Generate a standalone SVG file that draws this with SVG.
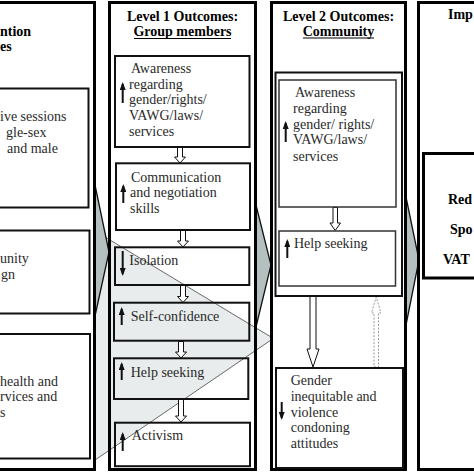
<svg xmlns="http://www.w3.org/2000/svg" width="474" height="474" viewBox="0 0 474 474">
<style>
.col{fill:none;stroke:#000;stroke-width:3}
.box{fill:none;stroke:#111;stroke-width:2}
.box3{fill:none;stroke:#333;stroke-width:1.5}
.t{font-family:"Liberation Serif","Times New Roman",serif;font-size:14px;fill:#2a2a2a}
.h{font-family:"Liberation Serif","Times New Roman",serif;font-size:14px;font-weight:bold;fill:#000}
.ul{stroke:#000;stroke-width:1.2}
.ind{stroke:#111;stroke-width:2;fill:none;marker-end:url(#ah)}
.hol{fill:#fff;stroke:#111;stroke-width:1}
.chev{fill:#b4c0c0;stroke:#111;stroke-width:1.3}
</style>
<defs>
<marker id="ah" markerUnits="userSpaceOnUse" markerWidth="8" markerHeight="6" refX="6" refY="3" orient="auto">
<path d="M0,0 L8,3 L0,6 z" fill="#111"/>
</marker>
</defs>
<rect x="0" y="0" width="474" height="474" fill="#fff"/>
<g id="connectors">
<polygon points="95,231 271,337 271,340 95,460" fill="#e8ecec"/>
<line x1="95" y1="231" x2="271" y2="337" stroke="#444" stroke-width="0.8"/>
<line x1="95" y1="460" x2="271" y2="340" stroke="#444" stroke-width="0.8"/>
<polygon class="chev" points="95,185 109,252 95,316"/>
<polygon class="chev" points="256,205 271,265 256,327"/>
<polygon class="chev" points="406,197 419,260 406,325"/>
<polygon class="hol" points="177.5,147.5 182.5,147.5 182.5,157 185.5,157 180,163 174.5,157 177.5,157"/>
<polygon class="hol" points="180.5,230.5 185.5,230.5 185.5,241 188.5,241 183,247 177.5,241 180.5,241"/>
<polygon class="hol" points="180.5,285.5 185.5,285.5 185.5,296.5 188.5,296.5 183,302.5 177.5,296.5 180.5,296.5"/>
<polygon class="hol" points="178.5,341.5 183.5,341.5 183.5,352 186.5,352 181,358 175.5,352 178.5,352"/>
<polygon class="hol" points="178.5,399.5 183.5,399.5 183.5,416 186.5,416 181,422 175.5,416 178.5,416"/>
<polygon class="hol" points="333,207.5 337.5,207.5 337.5,223 340.5,223 335.2,230.5 330,223 333,223"/>
<polygon class="hol" points="310,296.5 316,296.5 316,349 319,349 313,367 307,349 310,349"/>
<polygon points="374,367 378.5,367 378.5,313 381,313 376.2,297 371.5,313 374,313" fill="none" stroke="#9a9a9a" stroke-width="1" stroke-dasharray="2 1.5"/>
</g>
<g id="col1">
<rect class="col" x="-10" y="2.5" width="104.5" height="467"/>
<text class="h" x="0" y="36">ntion</text>
<text class="h" x="0" y="51">es</text>
</g>
<g id="c1-sessions">
<rect class="box" x="-10" y="88.5" width="98.5" height="119"/>
<text class="t" x="0" y="121">ive sessions</text>
<text class="t" x="6" y="137">gle-sex</text>
<text class="t" x="7" y="153">and male</text>
</g>
<g id="c1-campaign">
<rect class="box" x="-10" y="230.5" width="99.5" height="83"/>
<text class="t" x="0" y="263">unity</text>
<text class="t" x="1" y="279">gn</text>
</g>
<g id="c1-services">
<rect class="box" x="-10" y="334" width="100" height="124.5"/>
<text class="t" x="0" y="386">health and</text>
<text class="t" x="0" y="401">rvices and</text>
<text class="t" x="0" y="417">s</text>
</g>
<g id="col2">
<rect class="col" x="109.5" y="2.5" width="146" height="467"/>
<text class="h" x="182.5" y="21" text-anchor="middle">Level 1 Outcomes:</text>
<text class="h" x="182.5" y="36" text-anchor="middle">Group members</text>
<line class="ul" x1="134" y1="38.5" x2="231" y2="38.5"/>
</g>
<g id="c2-awareness">
<rect class="box" x="115" y="56" width="134.5" height="91"/>
<line class="ind" x1="122.7" y1="103" x2="122.7" y2="84"/>
<text class="t" x="131" y="73">Awareness</text>
<text class="t" x="129" y="88.5">regarding</text>
<text class="t" x="129" y="104">gender/rights/</text>
<text class="t" x="129" y="120">VAWG/laws/</text>
<text class="t" x="129" y="136">services</text>
</g>
<g id="c2-communication">
<rect class="box" x="116" y="163.3" width="134" height="66.7"/>
<line class="ind" x1="123.3" y1="203" x2="123.3" y2="186"/>
<text class="t" x="131" y="182">Communication</text>
<text class="t" x="130" y="197">and negotiation</text>
<text class="t" x="130" y="213">skills</text>
</g>
<g id="c2-isolation">
<rect class="box" x="115" y="247.3" width="134.3" height="37.7"/>
<line class="ind" x1="122.7" y1="251" x2="122.7" y2="274"/>
<text class="t" x="129.3" y="265">Isolation</text>
</g>
<g id="c2-selfconfidence">
<rect class="box" x="114" y="302.7" width="135.3" height="38"/>
<line class="ind" x1="121.7" y1="325" x2="121.7" y2="309"/>
<text class="t" x="130.7" y="321">Self-confidence</text>
</g>
<g id="c2-helpseeking">
<rect class="box" x="114" y="358.3" width="134.3" height="40.7"/>
<line class="ind" x1="121.7" y1="380" x2="121.7" y2="364"/>
<text class="t" x="130.7" y="377">Help seeking</text>
</g>
<g id="c2-activism">
<rect class="box" x="115" y="422.7" width="135" height="43.5"/>
<line class="ind" x1="122.7" y1="451" x2="122.7" y2="434"/>
<text class="t" x="131.7" y="440">Activism</text>
</g>
<g id="col3">
<rect class="col" x="271.5" y="2.5" width="134" height="467"/>
<text class="h" x="338.5" y="20.5" text-anchor="middle">Level 2 Outcomes:</text>
<text class="h" x="338.5" y="35.5" text-anchor="middle">Community</text>
<line class="ul" x1="303" y1="38" x2="374" y2="38"/>
<rect class="box" x="275.5" y="72.5" width="126.5" height="223.5"/>
</g>
<g id="c3-awareness">
<rect class="box3" x="279" y="80" width="117" height="127"/>
<line class="ind" x1="285.7" y1="142" x2="285.7" y2="123"/>
<text class="t" x="295" y="97">Awareness</text>
<text class="t" x="293" y="113">regarding</text>
<text class="t" x="293" y="128.5">gender/ rights/</text>
<text class="t" x="293" y="144">VAWG/laws/</text>
<text class="t" x="293" y="160.5">services</text>
</g>
<g id="c3-helpseeking">
<rect class="box3" x="279" y="231" width="116.5" height="55"/>
<line class="ind" x1="287.3" y1="258" x2="287.3" y2="241"/>
<text class="t" x="294" y="248">Help seeking</text>
</g>
<g id="c3-attitudes">
<rect class="box" x="276" y="368" width="127" height="100"/>
<line class="ind" x1="281.7" y1="402" x2="281.7" y2="418"/>
<text class="t" x="290.7" y="385">Gender</text>
<text class="t" x="290.7" y="401">inequitable and</text>
<text class="t" x="290.7" y="416.7">violence</text>
<text class="t" x="290.7" y="432">condoning</text>
<text class="t" x="290.7" y="448">attitudes</text>
</g>
<g id="col4">
<rect class="col" x="418.5" y="2.5" width="70" height="467"/>
<text class="h" x="448" y="19">Imp</text>
</g>
<g id="c4-impact">
<rect class="col" x="423.5" y="153.5" width="65" height="124.5"/>
<text class="h" x="448" y="204">Red</text>
<text class="h" x="450" y="234">Spo</text>
<text class="h" x="443" y="264">VAT</text>
</g>
</svg>
